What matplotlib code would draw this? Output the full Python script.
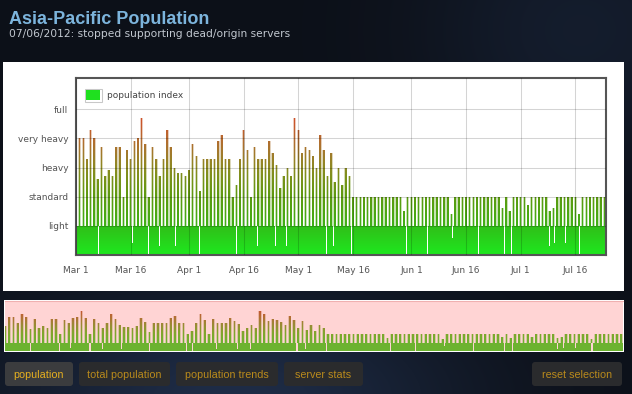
import numpy as np
import matplotlib
matplotlib.use('Agg')
import matplotlib.pyplot as plt
from matplotlib.path import Path
from matplotlib.patches import Rectangle, FancyBboxPatch
from matplotlib.colors import LinearSegmentedColormap

W, H = 632, 394

title = 'Asia-Pacific Population'
subtitle = '07/06/2012: stopped supporting dead/origin servers'
legend_label = 'population index'
level_values = [1, 2, 3, 4, 5]
level_labels = ['light', 'standard', 'heavy', 'very heavy', 'full']
date_days = [0, 15, 31, 46, 61, 76, 92, 107, 122, 137]
date_labels = ['Mar 1', 'Mar 16', 'Apr 1', 'Apr 16', 'May 1', 'May 16',
               'Jun 1', 'Jun 16', 'Jul 1', 'Jul 16']
button_labels = ['population', 'total population', 'population trends',
                 'server stats', 'reset selection']

base_level = 1.0
# daily peak of the population index (day 0 = Mar 1)
daily_peak = [
    2.9, 4.0, 4.0, 3.3, 4.3, 4.0, 2.6, 3.7, 2.7, 2.9,
    2.7, 3.7, 3.7, 2.0, 3.6, 3.3, 3.9, 4.0, 4.7, 3.8,
    2.0, 3.7, 3.3, 2.7, 3.3, 4.3, 3.7, 3.0, 2.8, 2.8,
    2.7, 2.9, 3.8, 3.4, 2.2, 3.3, 3.3, 3.3, 3.3, 3.9,
    4.1, 3.3, 3.3, 2.0, 2.4, 3.3, 4.3, 3.6, 2.0, 3.7,
    3.3, 3.3, 3.3, 3.9, 3.5, 3.1, 2.3, 2.7, 3.0, 2.7,
    4.7, 4.3, 3.5, 3.7, 3.6, 3.4, 3.0, 4.1, 3.6, 2.7,
    3.5, 2.5, 3.0, 2.4, 3.0, 2.7, 2.0, 2.0, 2.0, 2.0,
    2.0, 2.0, 2.0, 2.0, 2.0, 2.0, 2.0, 2.0, 2.0, 2.0,
    1.5, 2.0, 2.0, 2.0, 2.0, 2.0, 2.0, 2.0, 2.0, 2.0,
    2.0, 2.0, 2.0, 1.4, 2.0, 2.0, 2.0, 2.0, 2.0, 2.0,
    2.0, 2.0, 2.0, 2.0, 2.0, 2.0, 2.0, 1.6, 2.0, 1.5,
    2.0, 2.0, 2.0, 2.0, 1.7, 2.0, 2.0, 2.0, 2.0, 2.0,
    1.5, 1.6, 2.0, 2.0, 2.0, 2.0, 2.0, 2.0, 1.4, 2.0,
    2.0, 2.0, 2.0, 2.0, 2.0, 2.0,
]
# short drops below the "light" base level
dip_days = [6.1, 12.9, 15.4, 20.0, 23.0, 27.3, 34.0, 42.8, 44.1, 49.8, 54.8,
            57.7, 68.7, 70.7, 75.6, 90.6, 96.5, 103.3, 110.3, 117.5, 119.4,
            129.9, 131.3, 134.3, 138.1]
dip_levels = [0.0, 0.0, 0.4, 0.0, 0.3, 0.3, 0.0, 0.0, 0.0, 0.3, 0.3,
              0.3, 0.0, 0.3, 0.0, 0.0, 0.0, 0.6, 0.0, 0.0, 0.0,
              0.3, 0.4, 0.4, 0.0]

XMIN, XMAX = 0.0, 145.4
YMAX = 6.07


def rect(x0, x1, y0, y1):
    return Path([(x0, y0), (x1, y0), (x1, y1), (x0, y1), (x0, y0)],
                [Path.MOVETO, Path.LINETO, Path.LINETO, Path.LINETO, Path.CLOSEPOLY])


def build_paths(spike_w, ghost_w, dip_w):
    solid = []
    start = XMIN - 1
    for d, lv in zip(dip_days, dip_levels):
        solid.append(rect(start, d - dip_w / 2, 0, base_level))
        if lv > 0:
            solid.append(rect(d - dip_w / 2, d + dip_w / 2, 0, lv))
        start = d + dip_w / 2
    solid.append(rect(start, XMAX + 1, 0, base_level))
    ghosts = []
    for d, p in enumerate(daily_peak):
        if p > base_level:
            solid.append(rect(d - spike_w / 2, d + spike_w / 2, base_level, p))
            ghosts.append(rect(d - ghost_w / 2, d + ghost_w / 2, base_level, p))
    return Path.make_compound_path(*solid), Path.make_compound_path(*ghosts)


def draw_series(ax, cmap, ymax, ghost_alpha, spike_w, ghost_w, dip_w):
    solid, ghost = build_paths(spike_w, ghost_w, dip_w)
    grad = np.linspace(0, ymax, 400).reshape(-1, 1)
    for path, alpha in [(ghost, ghost_alpha), (solid, 1.0)]:
        im = ax.imshow(grad, cmap=cmap, vmin=0, vmax=ymax,
                       extent=(XMIN - 1, XMAX + 1, 0, ymax), origin='lower',
                       aspect='auto', alpha=alpha, interpolation='bilinear', zorder=2)
        im.set_clip_path(path, transform=ax.transData)


def cmap_from(stops, ymax, name):
    return LinearSegmentedColormap.from_list(name, [(v / ymax, c) for v, c in stops])


main_cmap = cmap_from([(0, '#1ee81e'), (0.97, '#30bf19'), (1.0, '#40b016'),
                       (2.0, '#5c9a10'), (2.5, '#749418'), (3.0, '#8c8a22'),
                       (3.5, '#a27a2c'), (4.0, '#b66a30'), (4.5, '#c8582c'),
                       (5.0, '#d44a26'), (YMAX, '#e03a20')], YMAX, 'main')
OV_YMAX = 5.8
ov_cmap = cmap_from([(0, '#6cb430'), (1.0, '#6eb230'), (2.0, '#80a62c'),
                     (3.0, '#9a8a34'), (4.0, '#b86a34'), (5.0, '#cc4a30'),
                     (OV_YMAX, '#d83a28')], OV_YMAX, 'ov')

fig = plt.figure(figsize=(W / 100, H / 100), dpi=100)


def frect(x0, y0, x1, y1):
    return [x0 / W, 1 - y1 / H, (x1 - x0) / W, (y1 - y0) / H]


# ---- canvas (pixel coordinates) ----
canvas = fig.add_axes([0, 0, 1, 1], zorder=-10)
canvas.set_xlim(0, W)
canvas.set_ylim(H, 0)
canvas.axis('off')
yy, xx = np.mgrid[0:H, 0:W]
base = np.array([12, 16, 24]) / 255
glow = np.array([30, 44, 70]) / 255
g = (np.exp(-(((xx - 230) / 230) ** 2 + ((yy - 400) / 110) ** 2))
     + 0.45 * np.exp(-(((xx - 580) / 160) ** 2 + ((yy - 30) / 140) ** 2)))
bg = base + (glow - base) * np.clip(g, 0, 1)[..., None]
canvas.imshow(bg, extent=(0, W, H, 0), aspect='auto', zorder=0)

canvas.add_patch(Rectangle((3, 62), 621, 229, facecolor='white', edgecolor='none', zorder=1))
canvas.add_patch(Rectangle((4, 300), 620, 52, facecolor='white', edgecolor='none', zorder=1))

canvas.text(9, 23.5, title, fontsize=13, fontweight='bold', family='Liberation Sans',
            color='#7cb4dc', va='baseline', ha='left', zorder=3)
canvas.text(9, 36.8, subtitle, fontsize=7.7, family='DejaVu Sans',
            color='#c2c8d0', va='baseline', ha='left', zorder=3)

button_boxes = [(5, 73), (79, 170), (176, 278), (284, 363), (532, 622)]
for i, (lab, (x0, x1)) in enumerate(zip(button_labels, button_boxes)):
    active = i == 0
    canvas.add_patch(FancyBboxPatch((x0, 362), x1 - x0, 24,
                                    boxstyle='round,pad=0,rounding_size=3',
                                    facecolor='#3b3c3e' if active else '#2a2b2d',
                                    edgecolor='none', zorder=2))
    canvas.text((x0 + x1) / 2, 374.5, lab, fontsize=7.75, family='Liberation Sans',
                color='#e6b020' if active else '#b98a1c', ha='center', va='center', zorder=3)

# ---- main chart ----
ax = fig.add_axes(frect(76, 78, 606, 255), zorder=0)
ax.set_facecolor('white')
draw_series(ax, main_cmap, YMAX, 0.32, 0.42, 0.78, 0.25)
ax.set_xlim(XMIN, XMAX)
ax.set_ylim(0, YMAX)
ax.set_xticks(date_days)
ax.set_xticklabels(date_labels)
ax.set_yticks(level_values)
ax.set_yticklabels(level_labels)
ax.tick_params(length=0, labelsize=6.5, labelcolor='#545454')
ax.tick_params(axis='y', pad=5.5)
ax.tick_params(axis='x', pad=8)
ax.grid(True, color='black', alpha=0.17, lw=0.75)
ax.set_axisbelow(False)
for s in ax.spines.values():
    s.set_color('#555555')
    s.set_linewidth(1.5)

# legend
fig.add_artist(Rectangle((84.5, 88.5), 17, 13, facecolor='white', edgecolor='#c8c8c8',
                         lw=0.75, transform=canvas.transData, zorder=5))
fig.add_artist(Rectangle((86, 90), 14, 10, facecolor='#1fe01f', edgecolor='none',
                         transform=canvas.transData, zorder=6))
fig.add_artist(plt.Text(107, 95.5, legend_label, fontsize=6.5, family='DejaVu Sans',
                        color='#444444', va='center', ha='left',
                        transform=canvas.transData, zorder=6))

# ---- overview chart ----
ov = fig.add_axes(frect(5, 301, 623, 351.4), zorder=0)
ov.set_facecolor('#ffd4d4')
draw_series(ov, ov_cmap, OV_YMAX, 0.3, 0.4, 0.75, 0.25)
ov.set_xlim(XMIN, XMAX)
ov.set_ylim(0, OV_YMAX)
ov.set_xticks([])
ov.set_yticks([])
for s in ov.spines.values():
    s.set_visible(False)
ov.spines['top'].set_visible(True)
ov.spines['top'].set_color('#f0b0b0')
ov.spines['top'].set_linewidth(0.8)

fig.savefig('out.png', dpi=100)
